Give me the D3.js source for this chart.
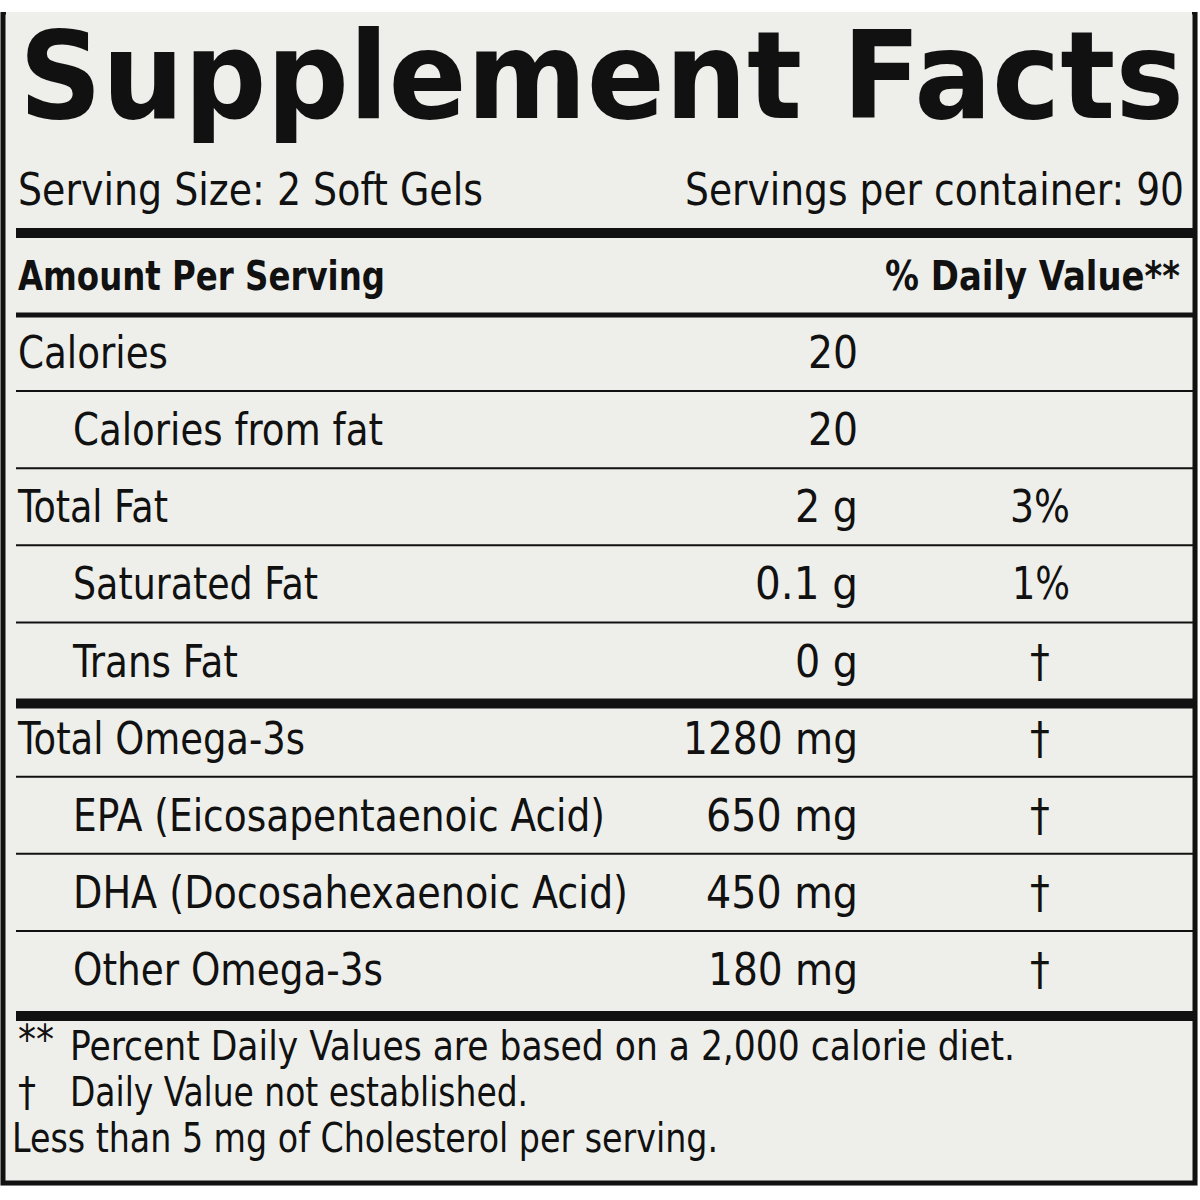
<!DOCTYPE html>
<html><head><meta charset="utf-8">
<script src="https://cdn.jsdelivr.net/npm/d3@7/dist/d3.min.js"></script>
<style>body{margin:0;background:#fff}</style></head>
<body><svg id="c" width="1200" height="1200"></svg>
<script>
const rowLabels = ["Calories","Calories from fat","Total Fat","Saturated Fat","Trans Fat","Total Omega-3s","EPA (Eicosapentaenoic Acid)","DHA (Docosahexaenoic Acid)","Other Omega-3s"];
const rowIndent = [0,1,0,1,1,0,1,1,1];
const rowAmounts = ["20","20","2 g","0.1 g","0 g","1280 mg","650 mg","450 mg","180 mg"];
const rowDV = ["","","3%","1%","†","†","†","†","†"];
const footMarks = ["**","†",""];
const footnotes = ["Percent Daily Values are based on a 2,000 calorie diet.","Daily Value not established.","Less than 5 mg of Cholesterol per serving."];

const fit = {"Supplement Facts":1165,"Serving Size: 2 Soft Gels":465,"Servings per container: 90":499,"Amount Per Serving":367,"% Daily Value**":295,
"Calories":150,"Calories from fat":310,"Total Fat":150,"Saturated Fat":245,"Trans Fat":165,"Total Omega-3s":287,"EPA (Eicosapentaenoic Acid)":532,"DHA (Docosahexaenoic Acid)":555,"Other Omega-3s":310,
"20":50,"2 g":63,"0.1 g":103,"0 g":63,"1280 mg":175,"650 mg":152,"450 mg":152,"180 mg":150,"3%":60,"1%":58,
"Percent Daily Values are based on a 2,000 calorie diet.":945,"Daily Value not established.":458,"Less than 5 mg of Cholesterol per serving.":706};

const svg = d3.select("#c");
const ink = "#111";
svg.append("rect").attr("x",0).attr("y",12).attr("width",1198).attr("height",1174).attr("fill","#eeefea");
svg.append("rect").attr("x",3).attr("y",12).attr("width",1192).attr("height",1171).attr("fill","none").attr("stroke",ink).attr("stroke-width",5);
svg.append("rect").attr("x",0).attr("y",0).attr("width",1200).attr("height",12).attr("fill","#fff");
svg.append("rect").attr("x",6).attr("y",12).attr("width",1186).attr("height",3).attr("fill","#eeefea");

function txt(s,x,y,size,weight,anchor){
  const t=svg.append("text").attr("x",x).attr("y",y).attr("font-size",size).attr("font-weight",weight||400)
   .attr("font-family","'DejaVu Sans Condensed','Liberation Sans Narrow','Liberation Sans',sans-serif").attr("fill",ink).attr("text-anchor",anchor||"start").text(s);
  if(fit[s]){t.attr("textLength",fit[s]).attr("lengthAdjust","spacingAndGlyphs");}
  return t;
}
function hline(y,w){svg.append("line").attr("x1",16).attr("x2",1194).attr("y1",y).attr("y2",y).attr("stroke",ink).attr("stroke-width",w);}

txt("Supplement Facts",19,118,122,700).attr("font-family","'DejaVu Sans','Open Sans',sans-serif");
txt("Serving Size: 2 Soft Gels",18,205,44);
txt("Servings per container: 90",1184,205,44,400,"end");
hline(233,10);
txt("Amount Per Serving",18,290,40,700);
txt("% Daily Value**",1180,290,40,700,"end");
hline(315,5);

const y = d3.scaleLinear().domain([0,8]).range([368,985]);
const xAmt = 858, xDV = 1070, xDag = 1040;
rowLabels.forEach((l,i)=>{
  txt(l,rowIndent[i]?73:18,y(i),44);
  txt(rowAmounts[i],xAmt,y(i),44,400,"end");
  if(rowDV[i]==="†") txt("†",xDag,y(i),44,400,"middle");
  else if(rowDV[i]) txt(rowDV[i],xDV,y(i),44,400,"end");
  if(i<8){
    const ly = (i===4)? y(i)+27 : y(i)+23;
    hline(ly, i===4?10:2);
  }
});
hline(1016,10);
const fy=[1060,1106,1152];
footnotes.forEach((f,i)=>{
  if(footMarks[i]) txt(footMarks[i],18,fy[i]-(i===0?6:0),40);
  txt(f,footMarks[i]?70:12,fy[i],40);
});
</script></body></html>
